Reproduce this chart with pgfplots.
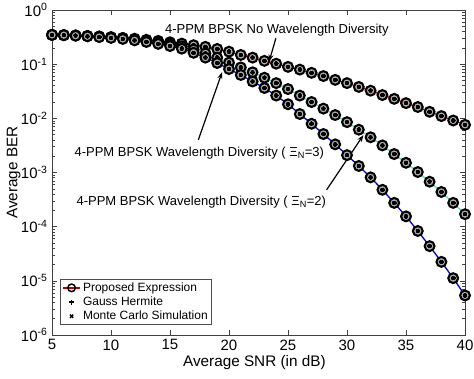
\documentclass[border=0pt]{standalone}
\usepackage{fontspec}
\setmainfont{Liberation Sans}
\usepackage{pgfplots}
\usepackage{pgfplotstable}
\pgfplotsset{compat=1.18}
\usetikzlibrary{arrows.meta,calc}

\definecolor{cred}{RGB}{190,0,0}
\definecolor{cteal}{RGB}{80,225,200}
\definecolor{cblue}{RGB}{0,0,210}
\definecolor{ringgray}{RGB}{175,175,175}

\pgfplotstableread{
snr ber
5 0.347
6 0.343
7 0.339
8 0.331
9 0.324
10 0.316
11 0.305
12 0.295
13 0.282
14 0.269
15 0.254
16 0.240
17 0.224
18 0.209
19 0.191
20 0.170
21 0.148
22 0.132
23 0.115
24 0.102
25 0.0891
26 0.0794
27 0.0692
28 0.0603
29 0.0513
30 0.0447
31 0.0380
32 0.0324
33 0.0269
34 0.0229
35 0.0191
36 0.0162
37 0.0132
38 0.0110
39 0.00912
40 0.00759
}\noDiv

\pgfplotstableread{
snr ber
5 0.347
6 0.343
7 0.339
8 0.331
9 0.324
10 0.313
11 0.302
12 0.288
13 0.272
14 0.251
15 0.234
16 0.214
17 0.186
18 0.158
19 0.132
20 0.107
21 0.0871
22 0.0708
23 0.0562
24 0.0447
25 0.0347
26 0.0263
27 0.0200
28 0.0151
29 0.0115
30 0.00851
31 0.00617
32 0.00447
33 0.00316
34 0.00219
35 0.00151
36 0.00102
37 0.000676
38 0.000437
39 0.000275
40 0.000170
}\divThree

\pgfplotstableread{
snr ber
5 0.347
6 0.343
7 0.335
8 0.327
9 0.316
10 0.305
11 0.292
12 0.275
13 0.257
14 0.237
15 0.216
16 0.193
17 0.162
18 0.132
19 0.105
20 0.0813
21 0.0631
22 0.0479
23 0.0363
24 0.0263
25 0.0182
26 0.0120
27 0.00794
28 0.00513
29 0.00331
30 0.00209
31 0.00132
32 0.000813
33 0.000479
34 0.000275
35 0.000155
36 0.0000832
37 0.0000437
38 0.0000224
39 0.0000112
40 0.00000537
}\divTwo

\pgfplotsset{
  circstyle/.style={mark=*, mark size=4.9pt, mark options={draw=black, fill=ringgray, line width=2.1pt, solid}},
  plusstyle/.style={only marks, mark=+, mark size=2.3pt, mark options={black, line width=1.5pt}},
  crossstyle/.style={only marks, mark=x, mark size=2.2pt, mark options={black, line width=1.5pt}},
}

\begin{document}
\begin{tikzpicture}
\begin{axis}[
  scale only axis,
  width=413pt, height=325pt,
  xmin=5, xmax=40,
  ymode=log, ymin=1e-6, ymax=1,
  xtick={5,10,...,40},
  ytick={1e-6,1e-5,1e-4,1e-3,1e-2,1e-1,1},
  yticklabels={10\textsuperscript{-6},10\textsuperscript{-5},10\textsuperscript{-4},10\textsuperscript{-3},10\textsuperscript{-2},10\textsuperscript{-1},10\textsuperscript{0}},
  /pgf/number format/assume math mode=true,
  tick label style={font=\fontsize{15}{17}\selectfont, black},
  xticklabel style={yshift=-1pt},
  yticklabel style={xshift=-1pt},
  tick align=inside,
  major tick length=5pt,
  minor tick length=3pt,
  axis line style={black!75, line width=0.8pt},
  every tick/.style={black!75, line width=0.6pt},
  xlabel={Average SNR (in dB)},
  ylabel={Average BER},
  xlabel style={font=\fontsize{15.3}{17}\selectfont, at={(axis description cs:0.49,-0.085)}, anchor=center},
  ylabel style={font=\fontsize{15.3}{17}\selectfont, at={(axis description cs:-0.093,0.5)}, anchor=center},
  clip=false,
  legend cell align=left,
  legend style={at={(rel axis cs:0.02,0.03)}, anchor=south west, draw=black!70, line width=0.8pt,
    font=\fontsize{12}{13}\selectfont, row sep=0pt, inner sep=1.5pt},
]
\addlegendimage{cred, line width=1.8pt, mark=o, mark size=3.8pt, mark options={black, line width=1.5pt}}
\addlegendentry{Proposed Expression}
\addlegendimage{only marks, mark=+, mark size=2.5pt, mark options={black, line width=1.4pt}}
\addlegendentry{Gauss Hermite}
\addlegendimage{only marks, mark=x, mark size=2.3pt, mark options={black, line width=1.4pt}}
\addlegendentry{Monte Carlo Simulation}

\addplot[cred, line width=1.3pt, circstyle, forget plot] table[x=snr,y=ber] {\noDiv};
\addplot[plusstyle, forget plot] table[x=snr,y=ber] {\noDiv};
\addplot[crossstyle, forget plot] table[x=snr,y=ber] {\noDiv};

\addplot[cteal, line width=1.3pt, circstyle, forget plot] table[x=snr,y=ber] {\divThree};
\addplot[plusstyle, forget plot] table[x=snr,y=ber] {\divThree};
\addplot[crossstyle, forget plot] table[x=snr,y=ber] {\divThree};

\addplot[cblue, line width=1.3pt, circstyle, forget plot] table[x=snr,y=ber] {\divTwo};
\addplot[plusstyle, forget plot] table[x=snr,y=ber] {\divTwo};
\addplot[crossstyle, forget plot] table[x=snr,y=ber] {\divTwo};

\node[font=\fontsize{13}{15}\selectfont] at (axis cs:24.05,0.43) {4-PPM BPSK No Wavelength Diversity};
\draw[line width=1.2pt, -{Stealth[length=7pt,width=5pt]}] (axis cs:23.97,0.30) -- (axis cs:23.4,0.112);

\node[font=\fontsize{13}{15}\selectfont] at (axis cs:17.48,0.00229) {4-PPM BPSK Wavelength Diversity ( \char"039E\textsubscript{N}=3)};
\draw[line width=1.2pt, -{Stealth[length=7pt,width=5pt]}] (axis cs:17.4,0.0040) -- (axis cs:19.42,0.0716);

\node[font=\fontsize{13}{15}\selectfont] at (axis cs:17.65,0.000285) {4-PPM BPSK Wavelength Diversity ( \char"039E\textsubscript{N}=2)};
\draw[line width=1.2pt, -{Stealth[length=7pt,width=5pt]}] (axis cs:28.27,0.000478) -- (axis cs:31.39,0.0049);

\coordinate (bl) at (rel axis cs:0,0);
\coordinate (tr) at (rel axis cs:1,1);
\end{axis}
\pgfresetboundingbox
\path ($(bl)+(-52pt,-44pt)$) rectangle ($(tr)+(9pt,10pt)$);
\end{tikzpicture}
\end{document}
